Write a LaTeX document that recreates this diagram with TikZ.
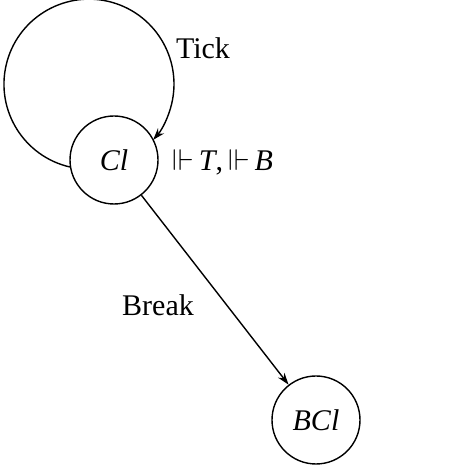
\documentclass[tikz,border=0pt]{standalone}
\usepackage{amssymb}
\usepackage{fontspec}
\setmainfont{Liberation Serif}
\usetikzlibrary{arrows.meta}
\begin{document}
\begin{tikzpicture}[x=1pt,y=1pt,
  state/.style={draw, circle, line width=1.4pt, minimum size=88pt, inner sep=0pt, font=\fontsize{30}{36}\selectfont\itshape},
  lbl/.style={font=\fontsize{30}{36}\selectfont, inner sep=0pt},
  edge/.style={line width=1.4pt, -{Stealth[length=12pt,width=8pt]}}]
\useasboundingbox (0,0) rectangle (474,465);
\node[state] (Cl) at (114,305) {Cl};
\node[state] (BCl) at (316,45) {BCl};
\node[lbl] (tick) at (203,417) {Tick};
\node[lbl] (break) at (158,160) {Break};
\node[lbl, anchor=west] (cond) at (172,303) {$\Vdash$\,\textit{T},\,$\Vdash$\,\textit{B}};
\draw[edge] (Cl.189) arc[start angle=257, end angle=-41, radius=85];
\draw[edge] (Cl) -- (BCl);
\end{tikzpicture}
\end{document}
